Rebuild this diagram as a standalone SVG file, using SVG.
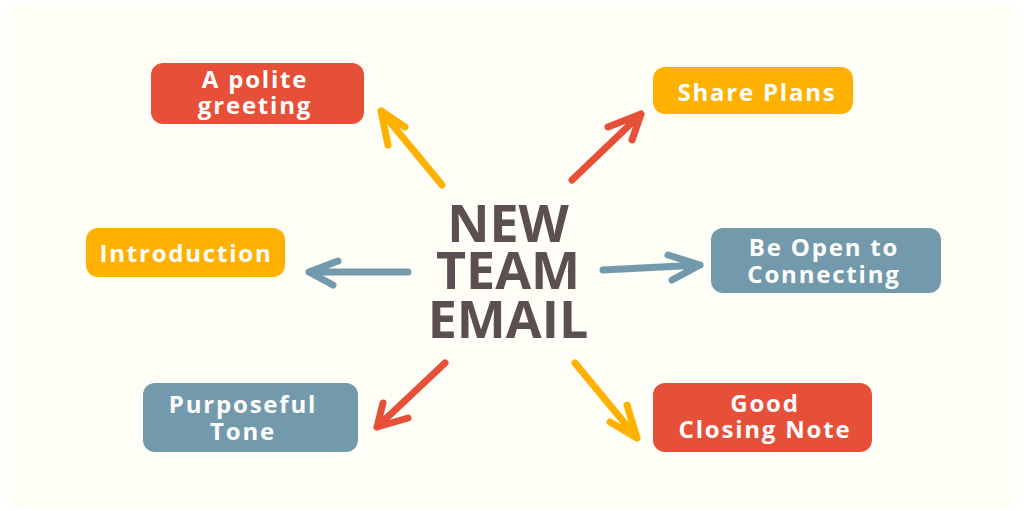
<svg xmlns="http://www.w3.org/2000/svg" width="1024" height="511" viewBox="0 0 1024 511">
<style>
.lbl{font-family:"Open Sans","DejaVu Sans",sans-serif;font-weight:700;font-size:24px;fill:#ffffff;text-anchor:middle;letter-spacing:1.8px}
.title{font-family:"Open Sans","DejaVu Sans",sans-serif;font-weight:700;font-size:52px;fill:#5b4f51;text-anchor:middle}
.a{fill:none;stroke-width:7;stroke-linecap:round;stroke-linejoin:round}
.red{fill:#e64f38}.yel{fill:#feb101}.blu{fill:#739aac}
</style>
<rect width="1024" height="511" fill="#ffffff"/>
<rect x="2" y="2" width="1020" height="507" rx="22" fill="#fefdf6"/>
<g id="center">
<text class="title" x="508" y="242">NEW</text>
<text class="title" x="508" y="289">TEAM</text>
<text class="title" x="508" y="338">EMAIL</text>
</g>
<g id="node-greeting">
<rect class="red" x="151" y="63" width="213" height="61" rx="12"/>
<text class="lbl" x="255" y="88">A polite</text>
<text class="lbl" x="255" y="114">greeting</text>
</g>
<g id="node-share">
<rect class="yel" x="653" y="67" width="200" height="47" rx="12"/>
<text class="lbl" x="757" y="101">Share Plans</text>
</g>
<g id="node-intro">
<rect class="yel" x="86" y="228" width="199" height="49" rx="12"/>
<text class="lbl" x="186" y="262">Introduction</text>
</g>
<g id="node-open">
<rect class="blu" x="711" y="228" width="230" height="65" rx="12"/>
<text class="lbl" x="824" y="256">Be Open to</text>
<text class="lbl" x="824" y="283">Connecting</text>
</g>
<g id="node-tone">
<rect class="blu" x="143" y="383" width="215" height="69" rx="12"/>
<text class="lbl" x="243" y="413">Purposeful</text>
<text class="lbl" x="243" y="440">Tone</text>
</g>
<g id="node-closing">
<rect class="red" x="653" y="383" width="219" height="69" rx="12"/>
<text class="lbl" x="765" y="412">Good</text>
<text class="lbl" x="765" y="438">Closing Note</text>
</g>
<g id="connectors">
<path class="a" stroke="#feb101" d="M442 185 L381 111 M405 127 L381 111 L388 145"/>
<path class="a" stroke="#e64f38" d="M572 180 L641 114 M608 127 L641 114 L632 140"/>
<path class="a" stroke="#739aac" d="M408 272 L309 272 M338 261 L309 272 L333 285"/>
<path class="a" stroke="#739aac" d="M603 270 L700 265 M668 255 L700 265 L672 280"/>
<path class="a" stroke="#e64f38" d="M445 363 L377 427 M383 403 L377 427 L408 418"/>
<path class="a" stroke="#feb101" d="M575 363 L637 438 M627 405 L637 438 L610 422"/>
</g>
</svg>
